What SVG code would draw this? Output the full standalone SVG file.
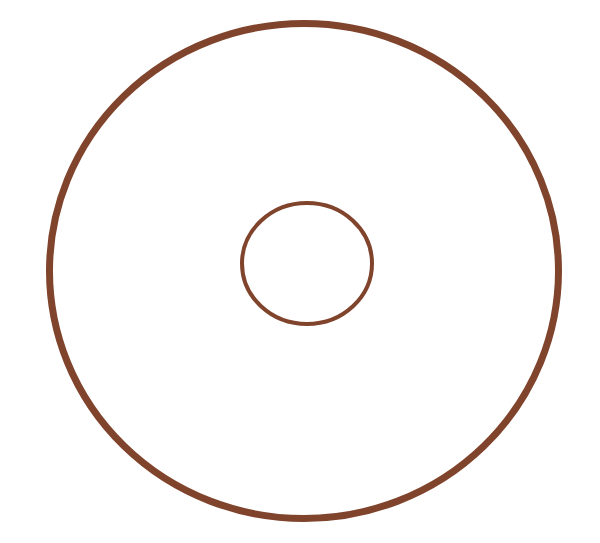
<svg xmlns="http://www.w3.org/2000/svg" width="600" height="543" viewBox="0 0 600 543">
<style>.ring{fill:none;stroke:#80442d}</style>
<rect width="600" height="543" fill="#ffffff"/>
<g id="outer"><ellipse class="ring" cx="304" cy="271" rx="254.5" ry="247.5" stroke-width="7"/></g>
<g id="inner"><ellipse class="ring" cx="307" cy="263.5" rx="65" ry="60.5" stroke-width="4"/></g>
<g id="connectors"></g>
</svg>
